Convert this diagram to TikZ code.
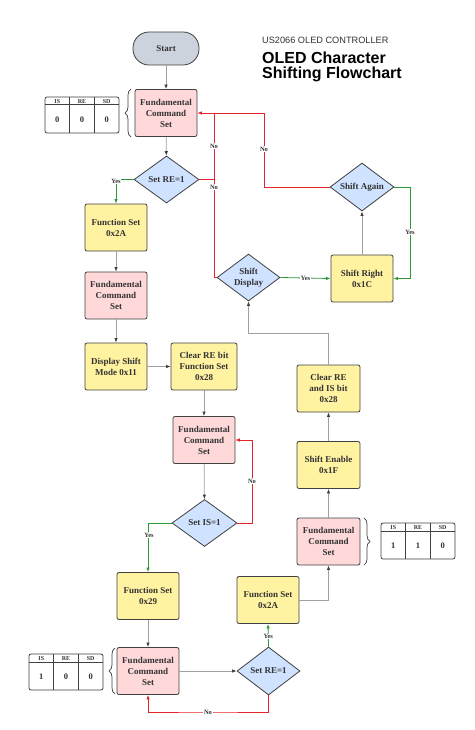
\documentclass[tikz,border=0pt]{standalone}
\usepackage{fontspec}
\setmainfont{Liberation Serif}
\newfontfamily\titlefont{Liberation Sans}
\usetikzlibrary{shapes.geometric,arrows.meta,decorations.pathreplacing}
\definecolor{yel}{HTML}{FFF2A1}
\definecolor{pnk}{HTML}{FFD9DA}
\definecolor{blu}{HTML}{CFE2FF}
\definecolor{stg}{HTML}{CDD3DD}
\definecolor{bord}{HTML}{404040}
\definecolor{lred}{HTML}{E3242B}
\definecolor{lgrn}{HTML}{2E9A36}
\definecolor{lgry}{HTML}{A0A0A0}
\definecolor{txt}{HTML}{333333}
\begin{document}
\begin{tikzpicture}[x=1pt,y=-1pt,
  base/.style={draw=bord,line width=0.8pt,text=txt,font=\bfseries\fontsize{9}{11}\selectfont,align=center,inner sep=0pt},
  ybox/.style={base,rectangle,rounded corners=2pt,fill=yel,minimum width=62pt,minimum height=47pt},
  pbox/.style={ybox,fill=pnk},
  dec/.style={base,diamond,fill=blu,minimum width=65pt,minimum height=47pt,aspect=1.38},
  gln/.style={draw=lgry,line width=0.8pt,-{Latex[length=4.5pt,width=3.5pt,color=bord]}},
  rln/.style={draw=lred,line width=0.8pt,-{Latex[length=4.5pt,width=3.5pt]}},
  grn/.style={draw=lgrn,line width=0.8pt,-{Latex[length=4.5pt,width=3.5pt]}},
  rl/.style={draw=lred,line width=0.8pt},
  lab/.style={text=txt,font=\bfseries\fontsize{6.5}{7}\selectfont,fill=white,inner sep=0.6pt},
  tabh/.style={text=txt,font=\bfseries\fontsize{6}{7}\selectfont,inner sep=0pt},
  tabv/.style={text=txt,font=\bfseries\fontsize{8.5}{9}\selectfont,inner sep=0pt},
  brc/.style={draw=bord,line width=0.7pt,decorate,decoration={brace,amplitude=6pt}},
  pics/regtab/.style n args={3}{code={
    \draw[draw=bord,line width=0.8pt,rounded corners=2pt,fill=white] (0,0) rectangle (74,36);
    \draw[bord,line width=1pt] (0,8) -- (74,8);
    \draw[bord,line width=0.8pt] (24.7,0) -- (24.7,36) (49.3,0) -- (49.3,36);
    \node[tabh] (-h1) at (12.3,4.2) {IS};
    \node[tabh] (-h2) at (37,4.2) {RE};
    \node[tabh] (-h3) at (61.7,4.2) {SD};
    \node[tabv] (-v1) at (12.3,22.5) {#1};
    \node[tabv] (-v2) at (37,22.5) {#2};
    \node[tabv] (-v3) at (61.7,22.5) {#3};
  }}]
\useasboundingbox[fill=white] (0,0) rectangle (474,730);

% title
\node[anchor=base west,inner sep=0pt,text=txt,font=\titlefont\fontsize{9.2}{10}\selectfont] (sub) at (262,44) {US2066 OLED CONTROLLER};
\node[anchor=base west,inner sep=0pt,font=\titlefont\bfseries\fontsize{16}{17}\selectfont] (t1) at (262,63.5) {OLED Character};
\node[anchor=base west,inner sep=0pt,font=\titlefont\bfseries\fontsize{16}{17}\selectfont] (t2) at (262,78.5) {Shifting Flowchart};

% nodes
\node[base,rectangle,rounded corners=16pt,fill=stg,minimum width=66pt,minimum height=33pt] (start) at (166,48.5) {Start};
\node[pbox] (fcs1) at (166,113) {Fundamental\\Command\\Set};
\node[dec] (re1) at (166.5,179.5) {Set RE=1};
\node[ybox] (fs2a) at (116,227.5) {Function Set\\0x2A};
\node[pbox] (fcs2) at (116,295.5) {Fundamental\\Command\\Set};
\node[ybox] (dsm) at (116,366.5) {Display Shift\\Mode 0x11};
\node[ybox,minimum width=66pt] (cre) at (204,366.5) {Clear RE bit\\Function Set\\0x28};
\node[pbox] (fcs3) at (204,440) {Fundamental\\Command\\Set};
\node[dec] (is1) at (204.5,523) {Set IS=1};
\node[ybox] (fs29) at (148,596) {Function Set\\0x29};
\node[pbox] (fcs5) at (148,671) {Fundamental\\Command\\Set};
\node[dec,minimum width=63pt,minimum height=48pt] (re2) at (268.5,671) {Set RE=1};
\node[ybox] (fs2b) at (268,600) {Function Set\\0x2A};
\node[pbox,minimum width=63pt] (fcs4) at (328.5,541.5) {Fundamental\\Command\\Set};
\node[ybox,minimum width=63pt] (se) at (328.5,465) {Shift Enable\\0x1F};
\node[ybox,minimum width=63pt] (creis) at (328.5,388.5) {Clear RE\\and IS bit\\0x28};
\node[dec,minimum width=63pt,minimum height=47pt] (sd) at (248.5,277.5) {Shift\\Display};
\node[ybox] (sr) at (362,278.5) {Shift Right\\0x1C};
\node[dec,minimum width=64pt,minimum height=48pt] (sa) at (362,187) {Shift Again};

% tables and braces
\pic (tab1) at (45,97) {regtab={0}{0}{0}};
\pic (tab2) at (381,523) {regtab={1}{1}{0}};
\pic (tab3) at (29,654) {regtab={1}{0}{0}};
\draw[brc] (131,137) -- (131,89);
\draw[brc] (364,518) -- (364,565);
\draw[brc] (115,694) -- (115,648);

% coordinates
\coordinate (j1) at (214,113);
\coordinate (j2) at (264,113);
\coordinate (gy) at (410,187);
\coordinate (rn) at (252,440);
\coordinate (bn) at (208,712);
\coordinate (up) at (328.5,333);

% connectors
\draw[gln] (start) -- (fcs1);
\draw[gln] (fcs1) -- (re1);
\draw[grn] (re1.west) -| (fs2a.north);
\node[lab] (y1) at (116,181) {Yes};
\draw[gln] (fs2a) -- (fcs2);
\draw[gln] (fcs2) -- (dsm);
\draw[gln] (dsm) -- (cre);
\draw[gln] (cre) -- (fcs3);
\draw[gln] (fcs3) -- (is1);
\draw[grn] (is1.west) -| (fs29.north);
\node[lab] (y2) at (149,535) {Yes};
\draw[rln] (is1.east) -| (rn) -- (fcs3.east);
\node[lab] (n5) at (252,481) {No};
\draw[gln] (fs29) -- (fcs5);
\draw[gln] (fcs5) -- (re2);
\draw[grn] (re2.north) -- node[lab,pos=0.45] (y3) {Yes} (fs2b.south);
\draw[rln] (re2.south) |- (bn) -| (fcs5.south);
\node[lab] (n6) at (bn) {No};
\draw[gln] (fs2b.east) -| (fcs4.south);
\draw[gln] (fcs4) -- (se);
\draw[gln] (se) -- (creis);
\draw[gln] (creis.north) -- (up) -| (sd.south);
\draw[grn] (sd.east) -- node[lab] (y4) {Yes} (sr.west);
\draw[gln] (sr) -- (sa);
\draw[grn] (sa.east) -- (gy) |- (sr.east);
\node[lab] (y5) at (410,232) {Yes};
\draw[rln] (sd.west) -| (j1) -- (fcs1.east);
\draw[rl] (re1.east) -- (re1.east -| j1);
\draw[rl] (sa.west) -| (j2) -- (j1);
\node[lab] (n1) at (214,146) {No};
\node[lab] (n2) at (264,149) {No};
\node[lab] (n3) at (214,187) {No};
\end{tikzpicture}
\end{document}
